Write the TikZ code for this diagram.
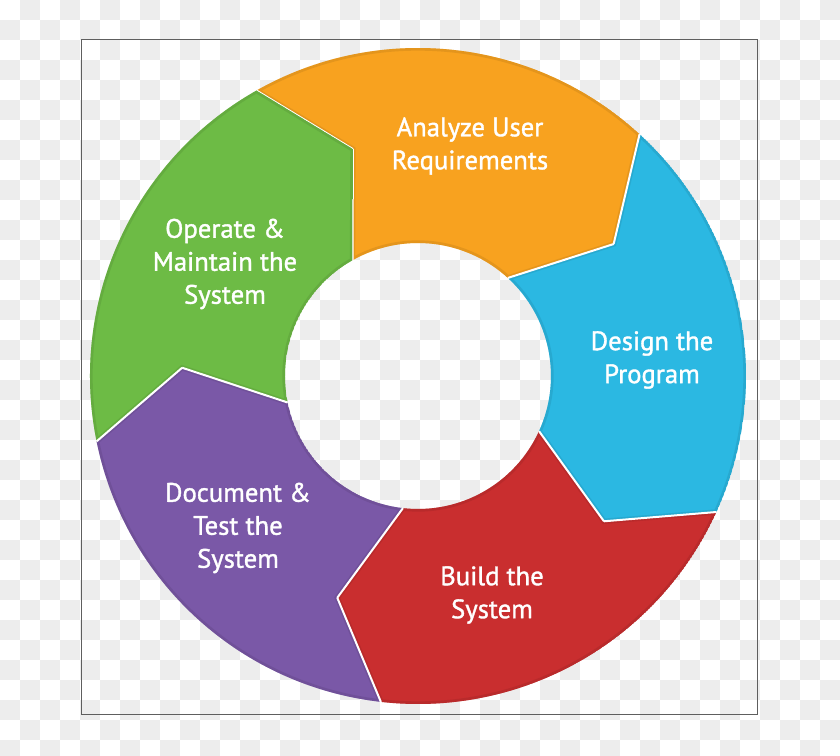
\documentclass[tikz,border=0pt]{standalone}
\usepackage{fontspec}
\setmainfont{PT Sans}
\newfontfamily\steplabelfont[FakeBold=1.3]{PT Sans}

\definecolor{segorange}{HTML}{F8A21F}
\definecolor{segblue}{HTML}{2BB8E2}
\definecolor{segred}{HTML}{C92E2F}
\definecolor{segpurple}{HTML}{7A58A7}
\definecolor{seggreen}{HTML}{6DBB45}
\definecolor{checkgray}{HTML}{EDEDED}
\definecolor{framegray}{HTML}{5E5E5E}

\begin{document}
\begin{tikzpicture}[x=0.75pt,y=0.75pt,
	steplabel/.style={text=white, align=center, font=\steplabelfont\fontsize{20}{24.75}\selectfont}]
	\pgfmathsetmacro{\Ro}{328}
	\pgfmathsetmacro{\Ri}{133}
	\pgfmathsetmacro{\Rm}{236}
	\useasboundingbox (-418,376) rectangle (422,-380);
	% checkerboard background
	\fill[white] (-418,376) rectangle (422,-380);
	\foreach \i in {0,...,41} {
		\foreach \j in {0,...,37} {
			\pgfmathsetmacro{\chk}{int(mod(\i+\j,2))}
			\ifnum \chk = 1
				\fill[checkgray] (-418+20*\i,376-20*\j) rectangle ++(20,-20);
			\fi
		}
	}
	% frame
	\draw[framegray, line width=0.75pt] (-336,336) rectangle (339,-339);
	% ring segments, clockwise
	\foreach \a/\col in {119.5/segorange, 47.5/segblue, -24.5/segred, -96.5/segpurple, -168.5/seggreen} {
		\pgfmathsetmacro{\aend}{\a-72}
		\pgfmathsetmacro{\tip}{\a-85.5}
		\pgfmathsetmacro{\notch}{\a-13.5}
		\begin{scope}
			\clip (\a:\Ro) arc[start angle=\a, end angle=\aend, radius=\Ro] -- (\tip:\Rm) -- (\aend:\Ri)
				arc[start angle=\aend, end angle=\a, radius=\Ri] -- (\notch:\Rm) -- cycle;
			\fill[\col] (\a:\Ro) arc[start angle=\a, end angle=\aend, radius=\Ro] -- (\tip:\Rm) -- (\aend:\Ri)
				arc[start angle=\aend, end angle=\a, radius=\Ri] -- (\notch:\Rm) -- cycle;
			\draw[\col!80!black, line width=4pt, opacity=0.4] (\a:\Ro) arc[start angle=\a, end angle=\aend, radius=\Ro] -- (\tip:\Rm) -- (\aend:\Ri)
				arc[start angle=\aend, end angle=\a, radius=\Ri] -- (\notch:\Rm) -- cycle;
		\end{scope}
		\draw[white, line width=1.5pt, line join=round] (\notch:\Rm) -- (\a:\Ri) (\notch:\Rm) -- (\a:\Ro);
	}
	% labels
	\node[steplabel] (analyze) at (52,230) {Analyze User\\Requirements};
	\node[steplabel] (design) at (234,16) {Design the\\Program};
	\node[steplabel] (build) at (74,-219) {Build the\\System};
	\node[steplabel] (document) at (-180,-152) {Document \&\\Test the\\System};
	\node[steplabel] (operate) at (-193,112) {Operate \&\\Maintain the\\System};
\end{tikzpicture}
\end{document}
